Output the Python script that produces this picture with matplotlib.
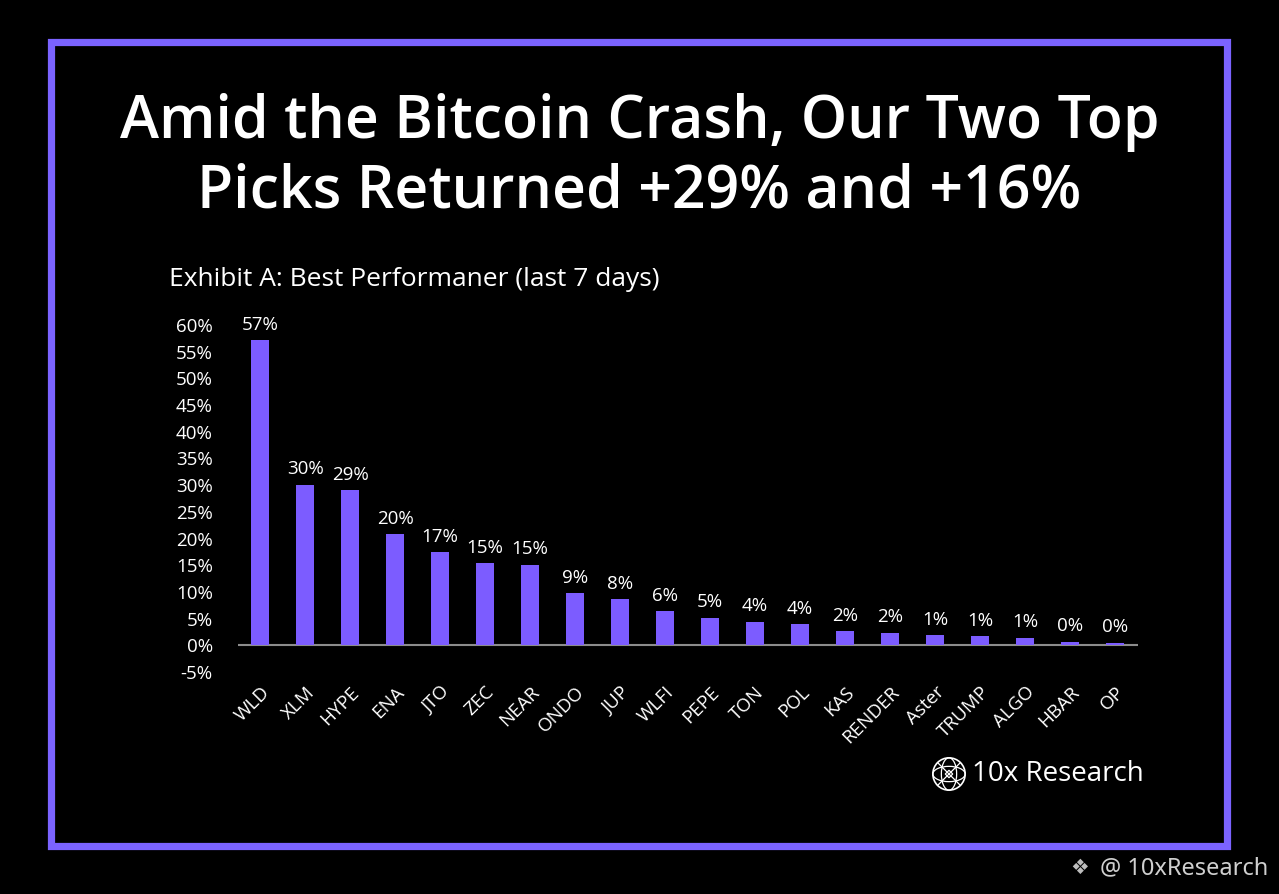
import matplotlib.pyplot as plt
from matplotlib.patches import Rectangle, Circle, Ellipse, RegularPolygon

# Data (7-day returns, %)
coins = ['WLD', 'XLM', 'HYPE', 'ENA', 'JTO', 'ZEC', 'NEAR', 'ONDO', 'JUP', 'WLFI',
         'PEPE', 'TON', 'POL', 'KAS', 'RENDER', 'Aster', 'TRUMP', 'ALGO', 'HBAR', 'OP']
returns = [57.1, 30.1, 29.0, 20.8, 17.4, 15.4, 15.1, 9.8, 8.6, 6.4,
           5.2, 4.4, 4.0, 2.7, 2.4, 1.9, 1.7, 1.4, 0.7, 0.5]
y_ticks = list(range(-5, 61, 5))

PURPLE = '#7b63ff'
BAR = '#7c5cff'
FONT = 'Open Sans'

fig = plt.figure(figsize=(12.79, 8.94), dpi=100, facecolor='black')

# purple frame around the whole card
fig.patches.append(Rectangle((50.5 / 1279, 1 - 845.5 / 894), 1176 / 1279, 804 / 894,
                             transform=fig.transFigure, fill=False,
                             edgecolor=PURPLE, linewidth=5.2))

fig.text(0.5, 1 - 138.5 / 894, 'Amid the Bitcoin Crash, Our Two Top',
         ha='center', va='baseline', color='white', fontsize=42.5, fontweight='semibold', family=FONT)
fig.text(0.5, 1 - 207 / 894, 'Picks Returned +29% and +16%',
         ha='center', va='baseline', color='white', fontsize=42.5, fontweight='semibold', family=FONT)
fig.text(169 / 1279, 1 - 286.5 / 894, 'Exhibit A: Best Performaner (last 7 days)',
         ha='left', va='baseline', color='white', fontsize=19, family=FONT)

ax = fig.add_axes([0.1859, 0.2483, 0.7035, 0.3882])
ax.set_facecolor('black')
x = range(len(coins))
bars = ax.bar(x, returns, width=0.4, color=BAR, zorder=2)
ax.axhline(0, color='#8c8c8c', linewidth=1.5, zorder=1)

for b, v in zip(bars, returns):
    ax.text(b.get_x() + b.get_width() / 2, v + 1.2, '%d%%' % int(v),
            ha='center', va='bottom', color='white', fontsize=13.5, family=FONT)

ax.set_xlim(-0.5, len(coins) - 0.5)
ax.set_ylim(-5, 60)
ax.set_yticks(y_ticks)
ax.set_yticklabels(['%d%%' % t for t in y_ticks], color='white', fontsize=13.5, family=FONT)
ax.set_xticks(list(x))
ax.set_xticklabels(coins, rotation=45, ha='right', rotation_mode='anchor',
                   color='white', fontsize=13.5, family=FONT)
ax.tick_params(axis='both', length=0)
ax.tick_params(axis='y', pad=18)
ax.tick_params(axis='x', pad=8)
for s in ax.spines.values():
    s.set_visible(False)

# 10x Research logo
cx, cy, r = 949 / 1279, 1 - 774 / 894, 17
logo = fig.add_axes([cx - r / 1279, cy - r / 894, 2 * r / 1279, 2 * r / 894])
logo.set_xlim(-1, 1)
logo.set_ylim(-1, 1)
logo.axis('off')
logo.add_patch(Circle((0, 0), 0.95, fill=False, edgecolor='white', linewidth=1.2))
for ang in (0, 90):
    logo.add_patch(Ellipse((0, 0), 1.9, 0.9, angle=ang, fill=False, edgecolor='white', linewidth=0.9))
logo.plot([-0.67, 0.67], [-0.67, 0.67], color='white', linewidth=0.9)
logo.plot([-0.67, 0.67], [0.67, -0.67], color='white', linewidth=0.9)
logo.add_patch(RegularPolygon((0, 0), 4, radius=0.22, fill=False, edgecolor='white', linewidth=0.9))
fig.text(972 / 1279, 1 - 774 / 894, '10x Research', ha='left', va='center',
         color='white', fontsize=20, family=FONT)

# watermark
fig.text(1080 / 1279, 1 - 868 / 894, '\u2756', ha='center', va='center',
         color='#bdbdbd', fontsize=15, family='DejaVu Sans')
fig.text(1100 / 1279, 1 - 868 / 894, '@ 10xResearch', ha='left', va='center',
         color='#cfcfcf', fontsize=17, family='Noto Sans')

fig.savefig('out.png', dpi=100, facecolor='black')
